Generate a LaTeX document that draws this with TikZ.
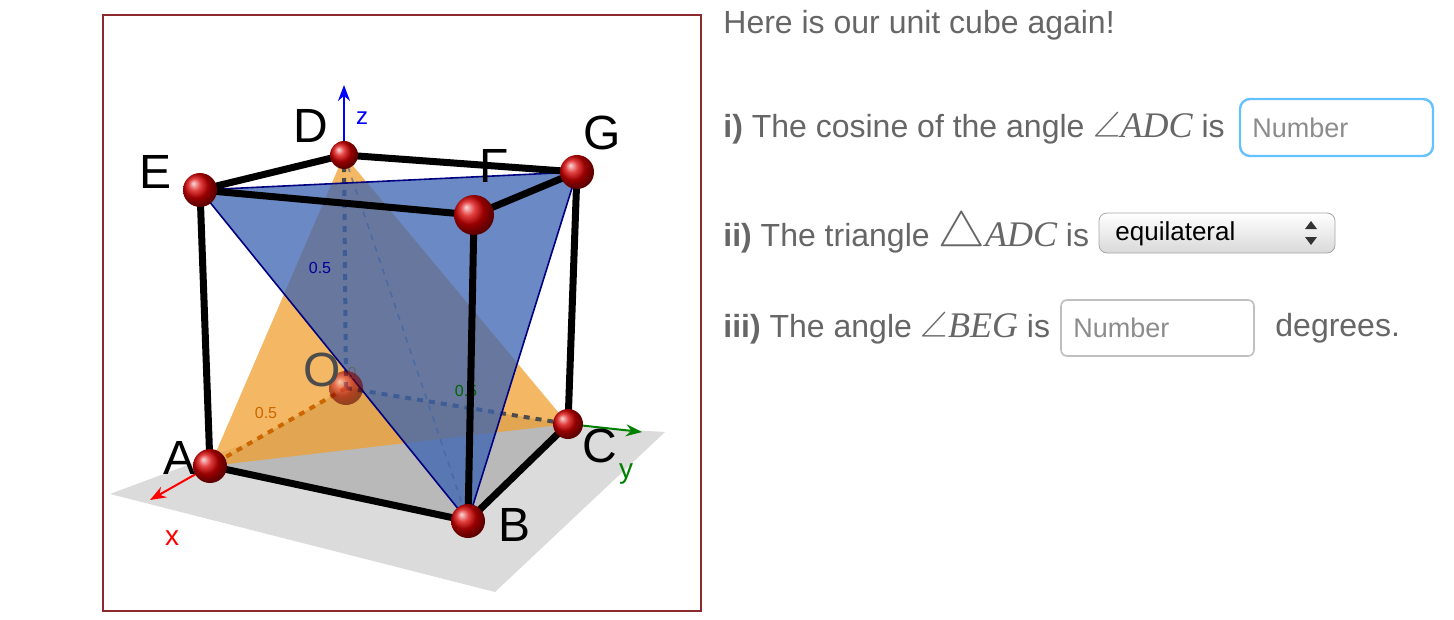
\documentclass[tikz,border=0pt]{standalone}
\usepackage{fontspec}
\setmainfont{Liberation Sans}
\newfontfamily\mserif{Liberation Serif}
\newfontfamily\mmath{Latin Modern Math}
\usetikzlibrary{arrows.meta}
\definecolor{txt}{HTML}{666666}
\definecolor{frame}{HTML}{8B2A2E}
\definecolor{orng}{HTML}{F0A030}
\definecolor{blu}{HTML}{3A62B0}
\newcommand{\mth}[2]{{\mmath\fontsize{17.5}{18}\selectfont #1}{\mserif\itshape\fontsize{18}{18}\selectfont #2}}
\tikzset{
  edge/.style={line width=3.5pt,black},
  hid/.style={line width=2pt,dashed,black!70},
  ball/.style={ball color=red!85!black,circle,inner sep=0pt,minimum size=17pt},
  lbl/.style={font=\fontsize{24}{26}\selectfont,inner sep=0pt},
  q/.style={anchor=west,text=txt,font=\fontsize{16}{18}\selectfont,inner sep=0pt},
  inbox/.style={rounded corners=3pt,draw=black!25,line width=0.8pt,fill=white},
  ph/.style={anchor=west,text=black!45,font=\fontsize{13.5}{15}\selectfont,inner sep=0pt}
}
\begin{document}
\begin{tikzpicture}[x=0.5pt,y=-0.5pt]
\useasboundingbox (0,0) rectangle (1454,620);
\draw[frame,line width=0.8pt] (103,15) rectangle (701,611);
% floor
\fill[gray!35,opacity=0.8] (110,494) -- (330,412) -- (665,432) -- (495,592) -- cycle;
\fill[gray!55] (210,466) -- (346,388) -- (568,424) -- (468,521) -- cycle;
\coordinate (A) at (210,466);
\coordinate (B) at (468,521);
\coordinate (C) at (568,424);
\coordinate (O) at (346,388);
\coordinate (D) at (344,155);
\coordinate (E) at (200,190);
\coordinate (F) at (474,215);
\coordinate (G) at (577,172);
\coordinate (xe) at (150,500);
\coordinate (ye) at (642,432);
\coordinate (ze) at (344,85);
% orange triangle
\fill[orng,opacity=0.75] (A) -- (D) -- (C) -- cycle;
% hidden lines
\draw[hid] (O) -- (D);
\draw[hid] (O) -- (C);
\draw[hid,orange!80!black] (O) -- (A);
\draw[dashed,gray,line width=0.8pt] (D) -- (B);
% blue triangle
\fill[blu,opacity=0.75] (E) -- (G) -- (B) -- cycle;
\draw[blue!50!black,line width=0.8pt] (E) -- (G) -- (B) -- cycle;
% axes
\draw[red,line width=1pt,-{Stealth[length=8pt]}] (A) -- (xe);
\draw[green!50!black,line width=1pt,-{Stealth[length=8pt]}] (C) -- (ye);
\draw[blue,line width=1pt,-{Stealth[length=8pt]}] (D) -- (ze);
\node[text=blue,font=\fontsize{12}{14}\selectfont] at (362,118) {z};
\node[text=red,font=\fontsize{14}{16}\selectfont] at (172,538) {x};
\node[text=green!50!black,font=\fontsize{14}{16}\selectfont] at (626,474) {y};
\node[text=blue!60!black,font=\fontsize{8}{9}\selectfont] at (320,268) {0.5};
\node[text=orange!80!black,font=\fontsize{8}{9}\selectfont] at (266,413) {0.5};
\node[text=green!40!black,font=\fontsize{8}{9}\selectfont] at (466,391) {0.5};
\node[text=black!60,font=\fontsize{8}{9}\selectfont] at (352,373) {0};
% edges
\draw[edge] (A) -- (B) -- (C) -- (G) -- (D) -- (E) -- (A);
\draw[edge] (E) -- (F) -- (G);
\draw[edge] (F) -- (B);
% balls
\node[ball,opacity=0.6] (nO) at (O) {};
\node[ball,minimum size=14pt] (nD) at (D) {};
\node[ball] (nA) at (A) {};
\node[ball] (nB) at (B) {};
\node[ball,minimum size=15pt] (nC) at (C) {};
\node[ball] (nE) at (E) {};
\node[ball,minimum size=20pt] (nF) at (F) {};
\node[ball] (nG) at (G) {};
% labels
\node[lbl] at (180,458) {A};
\node[lbl] at (514,525) {B};
\node[lbl] at (600,446) {C};
\node[lbl] at (311,126) {D};
\node[lbl] at (156,172) {E};
\node[lbl] at (494,166) {F};
\node[lbl] at (602,133) {G};
\node[lbl,text=black!70] at (322,370) {O};
% text
\node[q] (t0) at (723,25) {Here is our unit cube again!};
\node[q] (t1) at (723,128) {\textbf{i)} The cosine of the angle \mth{∠}{ADC} is};
\draw[rounded corners=5pt,draw=blue!40!cyan!60,line width=1.2pt,fill=white] (1240,99) rectangle (1433,156);
\node[ph] at (1252,128) {Number};
\node[q] (t2) at (723,232) {\textbf{ii)} The triangle \mth{\fontsize{24}{24}\selectfont△}{ADC} is};
\shade[rounded corners=4pt,top color=white,bottom color=black!15,draw=black!35] (1099,213) rectangle (1335,253);
\node[anchor=west,font=\fontsize{13}{15}\selectfont,inner sep=0pt] at (1115,234) {equilateral};
\fill[black!80] (1311,221) -- (1317,229) -- (1305,229) -- cycle;
\fill[black!80] (1311,245) -- (1317,237) -- (1305,237) -- cycle;
\node[q] (t3) at (723,328) {\textbf{iii)} The angle \mth{∠}{BEG} is};
\draw[inbox] (1061,300) rectangle (1254,356);
\node[ph] at (1073,328) {Number};
\node[q] at (1275,328) {degrees.};
\end{tikzpicture}
\end{document}
